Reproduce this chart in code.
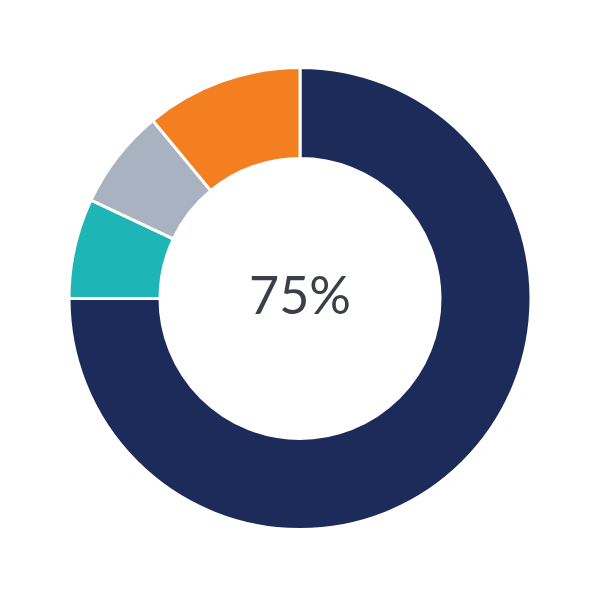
<!DOCTYPE html>
<html>
<head>
<meta charset="utf-8">
<script src="https://cdn.jsdelivr.net/npm/d3@7"></script>
<style>
  body { margin: 0; background: #fff; }
</style>
</head>
<body>
<div id="chart"></div>
<script>
// slice data, clockwise from 12 o'clock
const categories = ['Main', 'Teal', 'Grey', 'Orange'];
const values = [75, 7, 7, 11];
const colors = ['#1c2b5a', '#1eb5b7', '#a8b2c0', '#f47f20'];
const centerLabel = '75%';

const w = 600,
  h = 599;
const cx = 300,
  cy = 298.5;
const outerR = 231,
  innerR = 140;

const svg = d3
  .select('#chart')
  .append('svg')
  .attr('width', w)
  .attr('height', h);

const pie = d3
  .pie()
  .sort(null)
  .value(d => d.value);

const arc = d3
  .arc()
  .innerRadius(innerR)
  .outerRadius(outerR);

const data = categories.map((c, i) => ({ name: c, value: values[i], color: colors[i] }));

const g = svg.append('g').attr('transform', 'translate(' + cx + ',' + cy + ')');

g.selectAll('path')
  .data(pie(data))
  .enter()
  .append('path')
  .attr('d', arc)
  .attr('fill', d => d.data.color)
  .attr('stroke', '#fff')
  .attr('stroke-width', 3);

g.append('text')
  .attr('x', 0)
  .attr('y', 15)
  .attr('text-anchor', 'middle')
  .attr('font-family', 'Lato, sans-serif')
  .attr('font-size', 52)
  .attr('fill', '#3a4049')
  .text(centerLabel);
</script>
</body>
</html>
